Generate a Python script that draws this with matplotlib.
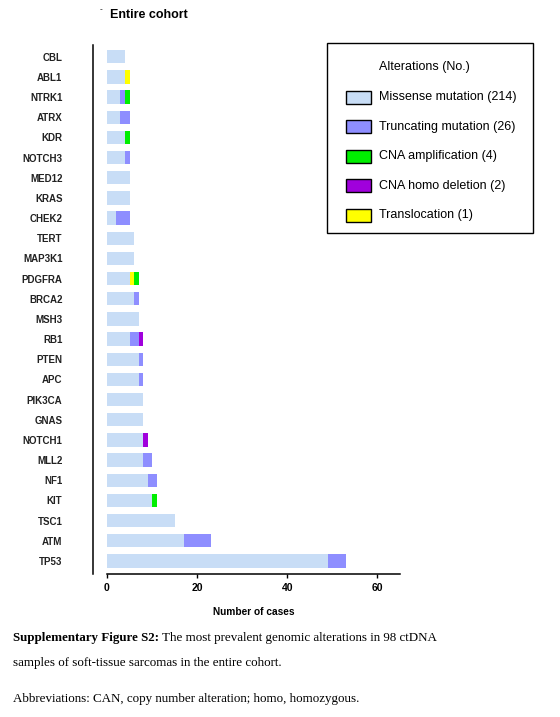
import numpy as np
import matplotlib
matplotlib.use("Agg")
from matplotlib import pyplot as plt
from matplotlib.patches import Rectangle

# data, top row first
genes = ["CBL", "ABL1", "NTRK1", "ATRX", "KDR", "NOTCH3", "MED12", "KRAS", "CHEK2",
         "TERT", "MAP3K1", "PDGFRA", "BRCA2", "MSH3", "RB1", "PTEN", "APC", "PIK3CA",
         "GNAS", "NOTCH1", "MLL2", "NF1", "KIT", "TSC1", "ATM", "TP53"]
missense = [4, 4, 3, 3, 4, 4, 5, 5, 2, 6, 6, 5, 6, 7, 5, 7, 7, 8, 8, 8, 8, 9, 10, 15, 17, 49]
truncating = [0, 0, 1, 2, 0, 1, 0, 0, 3, 0, 0, 0, 1, 0, 2, 1, 1, 0, 0, 0, 2, 2, 0, 0, 6, 4]
homo_del = [0, 0, 0, 0, 0, 0, 0, 0, 0, 0, 0, 0, 0, 0, 1, 0, 0, 0, 0, 1, 0, 0, 0, 0, 0, 0]
transloc = [0, 1, 0, 0, 0, 0, 0, 0, 0, 0, 0, 1, 0, 0, 0, 0, 0, 0, 0, 0, 0, 0, 0, 0, 0, 0]
amplif = [0, 0, 1, 0, 1, 0, 0, 0, 0, 0, 0, 1, 0, 0, 0, 0, 0, 0, 0, 0, 0, 0, 1, 0, 0, 0]

legend_labels = ["Missense mutation (214)", "Truncating mutation (26)", "CNA amplification (4)",
                 "CNA homo deletion (2)", "Translocation (1)"]
xticks = [0, 20, 40, 60]

c_mis = "#C8DDF6"
c_trn = "#8E8EFF"
c_amp = "#00EE00"
c_del = "#A000DC"
c_tsl = "#FFFF00"

W, H = 560, 717
fig = plt.figure(figsize=(W / 100, H / 100), dpi=100)
ax = fig.add_axes([93 / W, 1 - 574 / H, 307 / W, 529 / H])

y = len(genes) - 1 - np.arange(len(genes))
h = 0.66
left = np.zeros(len(genes))
for vals, col in [(missense, c_mis), (truncating, c_trn), (homo_del, c_del),
                  (transloc, c_tsl), (amplif, c_amp)]:
    vals = np.array(vals)
    ax.barh(y, vals, h, left=left, color=col, linewidth=0)
    left = left + vals

ax.set_xlim(-3.1, 65)
ax.set_ylim(-0.645, 25.58)
ax.set_yticks(y)
ax.set_yticklabels(genes, fontsize=7, fontweight="bold", color="#222222",
                   family="Liberation Sans")
ax.tick_params(axis="y", length=0, pad=22)
ax.set_xticks(xticks)
ax.set_xticklabels([str(t) for t in xticks], fontsize=7.5, fontweight="bold",
                   family="Liberation Sans")
ax.tick_params(axis="x", length=3, width=1, pad=3.5)
for s in ["top", "right"]:
    ax.spines[s].set_visible(False)
ax.spines["left"].set_linewidth(1.1)
ax.spines["bottom"].set_linewidth(1.1)
ax.spines["bottom"].set_bounds(0, 65)
ax.set_xlabel("Number of cases", fontsize=7.3, fontweight="bold", family="Liberation Sans")
ax.xaxis.set_label_coords(0.523, -0.063)

# title
fig.text(110 / W, 1 - 15 / H, "Entire cohort", fontsize=9, fontweight="bold",
         family="Liberation Sans", va="center", ha="left")
fig.text(100 / W, 1 - 10 / H, "-", fontsize=6, family="Liberation Sans", va="center")

# legend box (pixel layout)
def px(x, yy):
    return x / W, 1 - yy / H

bx0, by0, bx1, by1 = 327, 43, 533, 233
fig.patches.append(Rectangle(px(bx0, by1), (bx1 - bx0) / W, (by1 - by0) / H,
                             transform=fig.transFigure, fill=False, ec="black", lw=1))
fig.text(*px(379, 67), "Alterations (No.)", fontsize=9, family="Liberation Sans",
         va="center", ha="left")
leg_cols = [c_mis, c_trn, c_amp, c_del, c_tsl]
for i, (lab, col) in enumerate(zip(legend_labels, leg_cols)):
    cy = 97 + i * 29.6
    fig.patches.append(Rectangle(px(346, cy + 6.5), 25 / W, 13 / H, transform=fig.transFigure,
                                 fc=col, ec="black", lw=1))
    fig.text(*px(379, cy), lab, fontsize=9, family="Liberation Sans", va="center", ha="left")

# caption
serif = "Liberation Serif"
fs = 9.4
t1 = fig.text(13 / W, 1 - 638 / H, "Supplementary Figure S2:", fontsize=fs,
              fontweight="bold", family=serif, va="center", ha="left")
fig.canvas.draw()
bb = t1.get_window_extent()
fig.text(bb.x1 / W + 3 / W, 1 - 638 / H,
         "The most prevalent genomic alterations in 98 ctDNA", fontsize=fs,
         family=serif, va="center", ha="left")
fig.text(13 / W, 1 - 663 / H, "samples of soft-tissue sarcomas in the entire cohort.",
         fontsize=fs, family=serif, va="center", ha="left")
fig.text(13 / W, 1 - 699 / H, "Abbreviations: CAN, copy number alteration; homo, homozygous.",
         fontsize=fs, family=serif, va="center", ha="left")

plt.savefig("out.png", dpi=100)
